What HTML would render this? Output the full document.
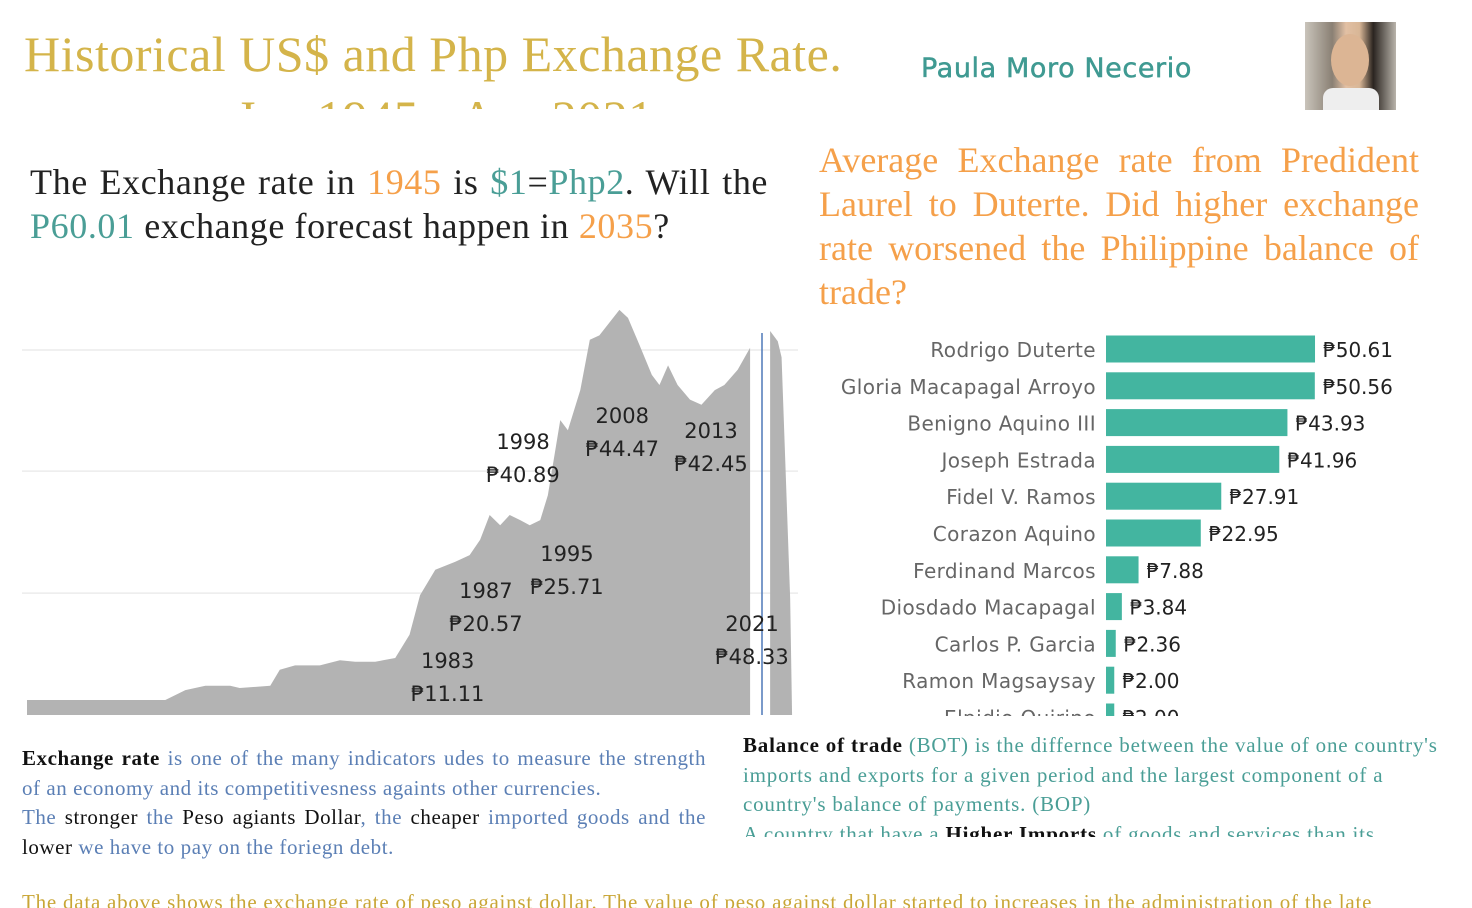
<!DOCTYPE html>
<html><head><meta charset="utf-8"><style>
body{margin:0;width:1472px;height:908px;overflow:hidden;background:#fff;font-family:"Liberation Serif",serif;position:relative}
.a{position:absolute}
.clip{overflow:hidden}
.or{color:#f5a04a}.tl{color:#4a9e96}.bl{color:#5b7fb5}.bk{color:#111}
.j{text-align:justify;text-align-last:left}
</style></head><body>
<div class="a clip" style="left:24px;top:22px;width:860px;height:87px;color:#d4b44a;font-size:50px;line-height:64px;letter-spacing:0.5px">Historical US$ and Php Exchange Rate.<br><span style="padding-left:212px">Jan 1945 - Apr 2021</span></div>
<div class="a" style="left:921px;top:50px;color:#3f9a92;font-family:'DejaVu Sans',sans-serif;font-size:27px;line-height:38px;letter-spacing:0.6px;-webkit-text-stroke:0.5px #3f9a92">Paula Moro Necerio</div>
<div class="a" style="left:1305px;top:22px;width:91px;height:88px;background:linear-gradient(90deg,#c9c4bb,#8a8074 30%,#e2c0a4 45%,#d8b696 60%,#2a2420 75%,#b9b4ab)">
<div style="position:absolute;left:26px;top:12px;width:38px;height:52px;border-radius:50%;background:#dcb594"></div>
<div style="position:absolute;left:18px;top:66px;width:56px;height:22px;background:#eee;border-radius:10px 10px 0 0"></div></div>

<div class="a j" style="left:30px;top:160px;width:738px;font-size:36px;line-height:44px;color:#222;letter-spacing:0.6px">The Exchange rate in <span class="or">1945</span> is <span class="tl">$1</span>=<span class="tl">Php2</span>. Will the <span class="tl">P60.01</span> exchange forecast happen in <span class="or">2035</span>?</div>

<div class="a j" style="left:819px;top:138px;width:600px;font-size:36px;line-height:44px;color:#f5a04a">Average Exchange rate from Predident Laurel to Duterte. Did higher exchange rate worsened the Philippine balance of trade?</div>

<svg class="a" style="left:0;top:290px" width="810" height="430" id="area"></svg>
<svg class="a" style="left:820px;top:330px" width="640" height="386" id="bars"></svg>

<div class="a j" style="left:22px;top:744px;width:684px;font-size:21px;line-height:29.5px;letter-spacing:0.55px" ><b class="bk">Exchange rate</b> <span class="bl">is one of the many indicators udes to measure the strength of an economy and its competitivesness againts other currencies.</span><br><span class="bl">The</span> <span class="bk">stronger</span> <span class="bl">the</span> <span class="bk">Peso agiants Dollar</span><span class="bl">, the</span> <span class="bk">cheaper</span> <span class="bl">imported goods and the</span> <span class="bk">lower</span> <span class="bl">we have to pay on the foriegn debt.</span></div>

<div class="a clip" style="left:743px;top:731px;width:704px;height:106px;font-size:21px;line-height:29.5px;color:#4a9e96;letter-spacing:0.8px"><b class="bk">Balance of trade</b> (BOT) is the differnce between the value of one country's imports and exports for a given period and the largest component of a country's balance of payments. (BOP)<br>A country that have a <b class="bk">Higher Imports</b> of goods and services than its exports has a trade deficit.</div>

<div class="a clip" style="left:22px;top:888px;width:1440px;height:20px;font-size:21px;line-height:29px;color:#c9a636;letter-spacing:0.77px">The data above shows the exchange rate of peso against dollar. The value of peso against dollar started to increases in the administration of the late</div>

<script>
const years=[1945,1959.5,1961.6,1963.7,1966.3,1967.3,1970.5,1971.5,1973.1,1975.7,1977.8,1979.4,1981.5,1983.6,1985.1,1986.2,1987.8,1989.9,1991.4,1992.5,1993.5,1994.6,1995.6,1996.7,1997.7,1998.8,1999.6,2000.9,2001.7,2003,2004,2005,2007.1,2008,2009.2,2010.5,2011.3,2012.2,2013.2,2014.5,2015.7,2017.1,2018.1,2019.5,2020.8];
const rates=[2.05,2.05,3.4,4.0,4.0,3.7,4.0,6.2,6.8,6.8,7.5,7.3,7.3,7.8,11,16.4,19.9,21,21.9,24,27.4,26,27.4,26.7,26,26.7,30.1,40.4,39,44.5,51.4,52,55.5,54.4,50.7,46.6,45.2,47.9,45.2,43.2,42.5,44.5,45.2,47.3,50.3];
const fcYears=[2022.9,2023.7,2024.1,2025,2025.2];
const fcRates=[52.6,51.2,49,16,0];
const gridVals=[16.7,33.4,50];
const annYears=['1983','1987','1995','1998','2008','2013','2021'];
const annVals=['₱11.11','₱20.57','₱25.71','₱40.89','₱44.47','₱42.45','₱48.33'];
const annAnchorX=[1989.1,1993.1,2001.6,1997.0,2007.4,2016.7,2021.0];
const annTopY=[370,300,263,151,125,140,333];
const NS='http://www.w3.org/2000/svg';
const ax=document.getElementById('area');
const X=y=>27+(y-1945)*(725/76), Y=v=>425-v*7.3;
function mk(t,a,p){const e=document.createElementNS(NS,t);for(const k in a)e.setAttribute(k,a[k]);(p||ax).appendChild(e);return e;}
gridVals.forEach(v=>{const l=mk('line',{x1:22,x2:798,y1:Y(v),y2:Y(v),stroke:'#ececec','stroke-width':1.5});

});
let d='M'+X(years[0])+','+Y(0);years.forEach((y,i)=>d+='L'+X(y)+','+Y(rates[i]));d+='L'+X(years[years.length-1])+','+Y(0)+'Z';
const ar=mk('path',{d:d,fill:'#b3b3b3'});


let d2='M'+X(fcYears[0])+','+Y(0);fcYears.forEach((y,i)=>d2+='L'+X(y)+','+Y(fcRates[i]));d2+='Z';
const fa=mk('path',{d:d2,fill:'#b3b3b3'});


const rl=mk('line',{x1:762,x2:762,y1:43,y2:425,stroke:'#4e79b8','stroke-width':1.5});


annYears.forEach((t,i)=>{const g=mk('g',{});


const x=X(annAnchorX[i]);
mk('text',{x:x,y:annTopY[i]+8,'text-anchor':'middle','font-family':'DejaVu Sans,sans-serif','font-size':21,fill:'#222'},g).textContent=t;
mk('text',{x:x,y:annTopY[i]+41,'text-anchor':'middle','font-family':'DejaVu Sans,sans-serif','font-size':21,fill:'#222'},g).textContent=annVals[i];});

const presidents=['Rodrigo Duterte','Gloria Macapagal Arroyo','Benigno Aquino III','Joseph Estrada','Fidel V. Ramos','Corazon Aquino','Ferdinand Marcos','Diosdado Macapagal','Carlos P. Garcia','Ramon Magsaysay','Elpidio Quirino'];
const avgRates=[50.61,50.56,43.93,41.96,27.91,22.95,7.88,3.84,2.36,2.00,2.00];
const bx=document.getElementById('bars');
const BX=v=>286+v*4.13, BY=i=>19+i*36.8;
presidents.forEach((p,i)=>{const g=mk('g',{},bx);


const t=mk('text',{x:276,y:BY(i)+8,'text-anchor':'end','font-family':'DejaVu Sans,sans-serif','font-size':20,fill:'#666','letter-spacing':0.4},g);t.textContent=p;
const r=mk('rect',{x:286,y:BY(i)-13.5,width:BX(avgRates[i])-286,height:27,fill:'#43b5a0'},g);


mk('text',{x:BX(avgRates[i])+8,y:BY(i)+8,'font-family':'DejaVu Sans,sans-serif','font-size':20,fill:'#222'},g).textContent='₱'+avgRates[i].toFixed(2);});
</script>
</body></html>
